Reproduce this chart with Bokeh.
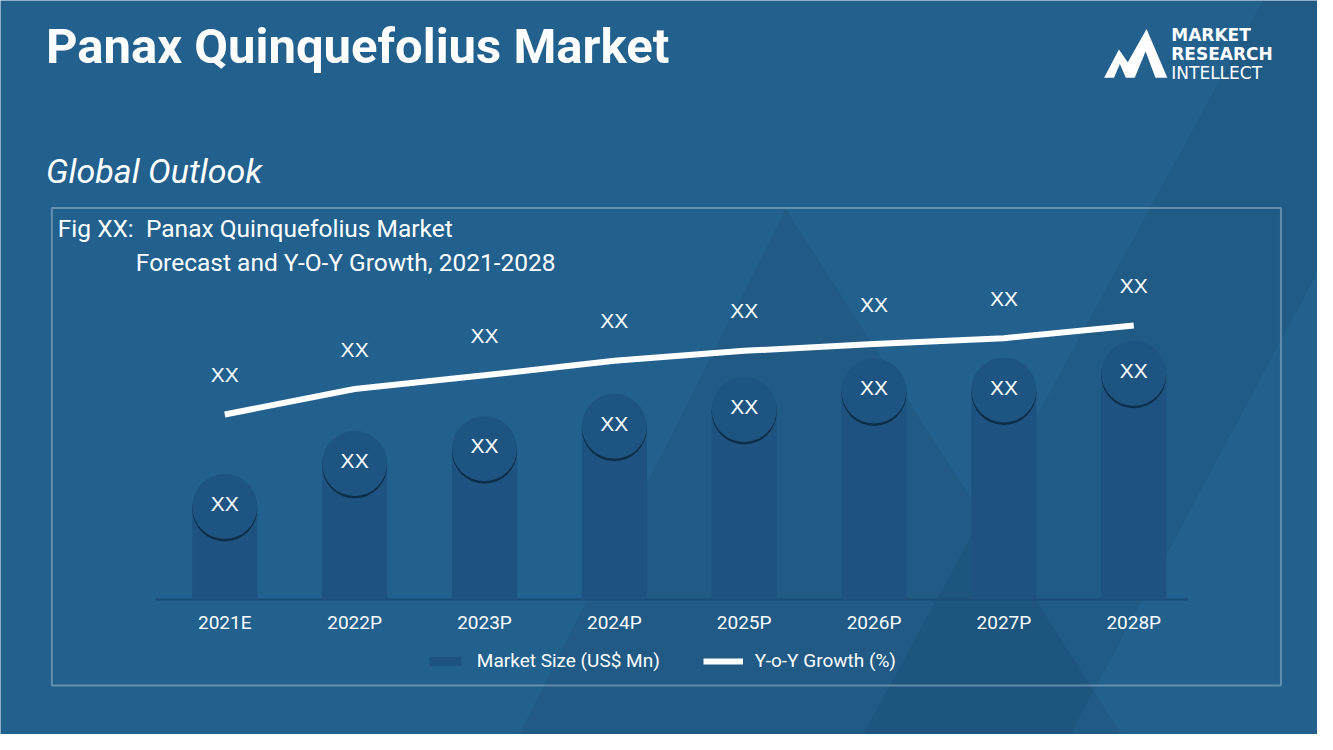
from bokeh.plotting import figure
from bokeh.models import (Range1d, ColumnDataSource, Label, FixedTicker,
                          PolyAnnotation, Legend, LegendItem)
from bokeh.transform import dodge
from bokeh.core.properties import value
from bokeh.embed import file_html
from bokeh.resources import INLINE

# ---------------- data ----------------
years = ["2021E", "2022P", "2023P", "2024P", "2025P", "2026P", "2027P", "2028P"]
market_size = [95, 139, 154, 177, 194, 213, 214, 231]
yoy_growth = [189, 215, 229, 244, 254, 261, 267, 280]
bar_labels = ["XX"] * 8
line_labels = ["XX"] * 8

title_text = "Panax Quinquefolius Market"
subtitle_text = "Global Outlook"
fig_line1 = "Fig XX:\u00a0 Panax Quinquefolius Market"
fig_line2 = "Forecast and Y-O-Y Growth, 2021-2028"
legend_labels = ["Market Size (US$ Mn)", "Y-o-Y Growth (%)"]

# ---------------- layout ----------------
W, H = 1317, 734            # figure size (fits 1333x750 window with margin)
RW, RH = 1333, 750          # design grid
SX, SY = W / RW, H / RH
X0, STEP = 227.0, 131.43    # design position of first category and spacing
BASE = 612.0                # design y of the baseline

BG = "#22608e"
BAR = "#1e5381"
CIRC = "#1e5482"
WHITE = "#ffffff"
FONT = "Roboto"


def sx(rx):
    return rx * SX


def sy(ry):
    return (RH - ry) * SY


x_pos = list(range(len(years)))
src = ColumnDataSource(dict(x=x_pos, size=market_size, growth=yoy_growth,
                            bl=bar_labels, ll=line_labels))

p = figure(width=W, height=H,
           x_range=Range1d(-X0 / STEP, (RW - X0) / STEP),
           y_range=Range1d(BASE - RH, BASE),
           output_backend="svg", toolbar_location=None, y_axis_location=None,
           min_border=0)
p.background_fill_color = BG
p.border_fill_color = BG
p.outline_line_color = None
p.xgrid.grid_line_color = None
p.ygrid.grid_line_color = None

# background mountain shapes
for xs, ys, a in [
    ([795, 525, 1135], [213, 750, 750], 0.06),
    ([1278, 1480, 1083, 873], [0, 0, 750, 750], 0.05),
]:
    p.add_layout(PolyAnnotation(xs=[sx(x) for x in xs], ys=[sy(y) for y in ys],
                                xs_units="screen", ys_units="screen",
                                fill_color="black", fill_alpha=a,
                                line_color=None, level="underlay"))

# white frame box
bx = [52, 1296, 1296, 52]
by = [212, 212, 700, 700]
p.add_layout(PolyAnnotation(xs=[sx(x) for x in bx], ys=[sy(y) for y in by],
                            xs_units="screen", ys_units="screen",
                            fill_alpha=0, line_color=WHITE, line_width=2,
                            level="underlay"))

# baseline
p.add_layout(PolyAnnotation(xs=[sx(157), sx(1202), sx(1202), sx(157)],
                            ys=[sy(611), sy(611), sy(613), sy(613)],
                            xs_units="screen", ys_units="screen",
                            fill_color="#1b4c76", fill_alpha=1,
                            line_color=None, level="underlay"))

# bars + circles
bars = p.vbar(x="x", top="size", width=66 / STEP, source=src,
              fill_color=BAR, line_color=None)
p.scatter(x="x", y=dodge("size", -2.5, range=p.y_range), size=65,
          source=src, fill_color="#0a2236", fill_alpha=0.75, line_color=None)
p.scatter(x="x", y="size", size=65, source=src, fill_color=CIRC,
          line_color=None)
p.text(x="x", y="size", text="bl", source=src, text_align="center",
       text_baseline="middle", y_offset=-3, text_font_size="21px",
       text_color=WHITE, text_font=value("Liberation Sans"))

# growth line
line = p.line(x="x", y="growth", source=src, line_color=WHITE,
              line_width=6)
p.text(x="x", y="growth", text="ll", source=src, text_align="center",
       text_baseline="middle", y_offset=-40, text_font_size="21px",
       text_color=WHITE, text_font=value("Liberation Sans"))

# axis (drawn at the baseline, inside the full-canvas frame)
ax = p.xaxis[0]
ax.fixed_location = 0
ax.ticker = FixedTicker(ticks=x_pos)
ax.major_label_overrides = {i: y for i, y in zip(x_pos, years)}
ax.axis_line_color = None
ax.major_tick_line_color = None
ax.minor_tick_line_color = None
ax.major_label_text_color = WHITE
ax.major_label_text_font_size = "19px"
ax.major_label_text_font = FONT
ax.major_label_standoff = 6

# legend
legend = Legend(items=[LegendItem(label=legend_labels[0], renderers=[bars]),
                       LegendItem(label=legend_labels[1], renderers=[line])],
                orientation="horizontal", location=(sx(430), sy(687)),
                glyph_width=40, glyph_height=12, label_standoff=12,
                spacing=43, padding=0, margin=0, border_line_color=None,
                background_fill_alpha=0, label_text_color=WHITE,
                label_text_font_size="19px", label_text_font=FONT)
p.add_layout(legend)


# texts
def add_label(text, rx, ry, size, style="normal", font=FONT):
    p.add_layout(Label(x=sx(rx), y=sy(ry), x_units="screen", y_units="screen",
                       text=text, text_font=font, text_font_size=size,
                       text_font_style=style, text_color=WHITE,
                       text_baseline="middle", text_align="left"))


add_label(title_text, 46, 47, "49px", "bold")
add_label(subtitle_text, 46, 174, "34px", "italic")
add_label(fig_line1, 58, 233, "24.5px")
add_label(fig_line2, 137, 268, "24.5px")

# logo
icon_x = [1117, 1132, 1141, 1160, 1181, 1169, 1159, 1148, 1139, 1133, 1127]
icon_y = [79, 50, 63, 29, 79, 79, 52, 79, 79, 65, 79]
p.add_layout(PolyAnnotation(xs=[sx(x) for x in icon_x],
                            ys=[sy(y) for y in icon_y],
                            xs_units="screen", ys_units="screen",
                            fill_color=WHITE, fill_alpha=1, line_color=None))
add_label("MARKET", 1185, 35, "17px", "bold", "DejaVu Sans")
add_label("RESEARCH", 1185, 55, "17px", "bold", "DejaVu Sans")
add_label("INTELLECT", 1185, 74, "17px", "normal", "DejaVu Sans")

open("out.html", "w").write(file_html(p, INLINE))
